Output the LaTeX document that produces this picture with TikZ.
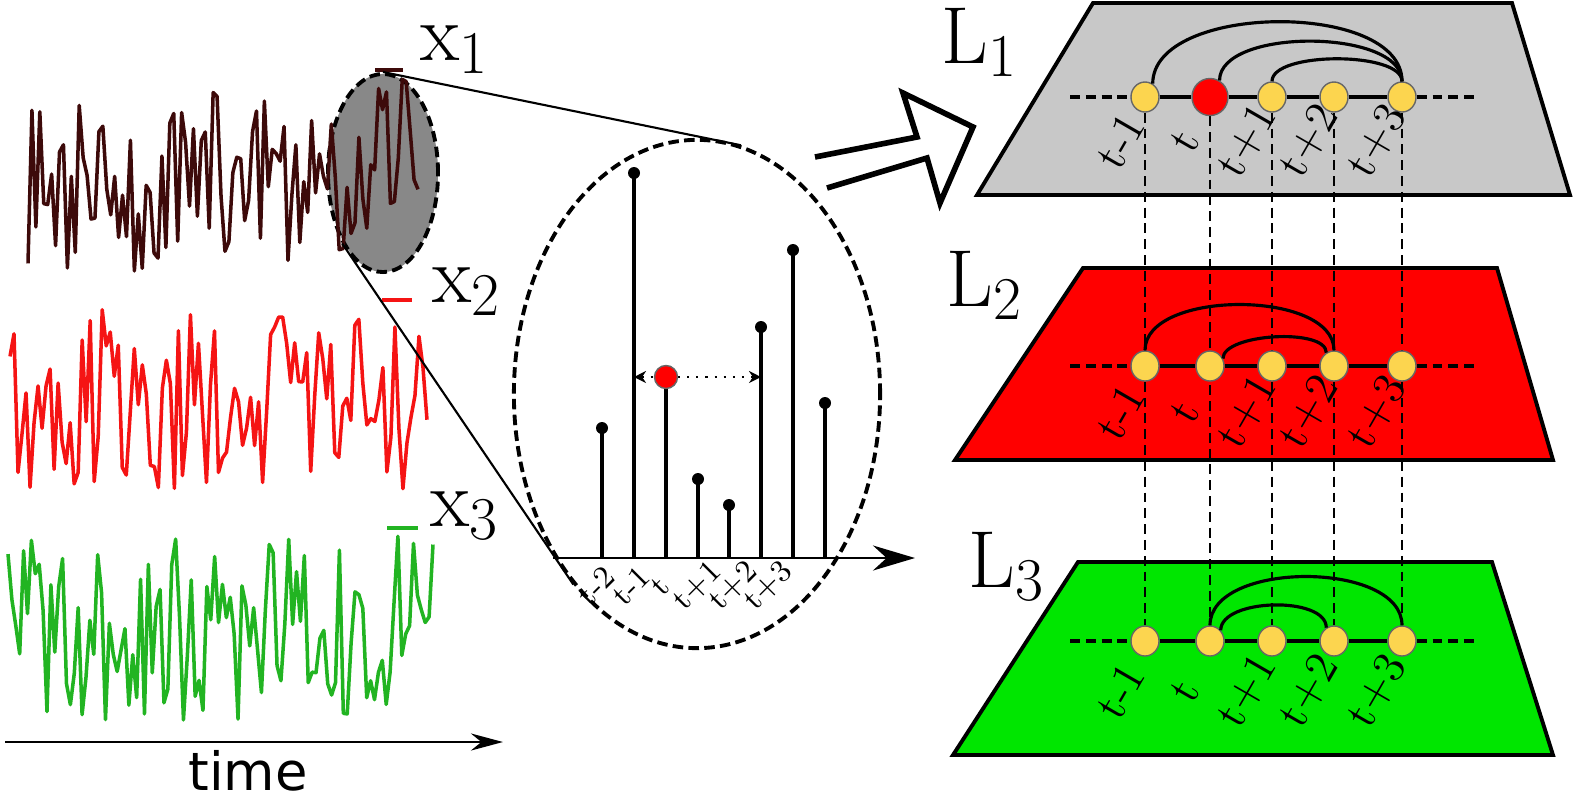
\documentclass[tikz,border=0pt]{standalone}
\usepackage{fontspec}
\newfontfamily\timefont{DejaVu Sans}
\usetikzlibrary{arrows.meta,shapes.geometric,backgrounds}
\definecolor{serbrown}{RGB}{61,10,10}
\definecolor{serred}{RGB}{245,20,20}
\definecolor{sergreen}{RGB}{34,180,34}
\definecolor{planegray}{RGB}{200,200,200}
\definecolor{planered}{RGB}{255,0,0}
\definecolor{planegreen}{RGB}{0,230,0}
\definecolor{nodeyel}{RGB}{252,213,79}
\definecolor{zoomgray}{RGB}{136,136,136}

\begin{document}
\begin{tikzpicture}[x=0.01cm,y=-0.01cm,
  series/.style={line width=1pt,line join=round},
  dashes/.style={dash pattern=on 3pt off 1.5pt,line width=1.1pt},
  stem/.style={line width=1.4pt},
  dot/.style={circle,fill=black,inner sep=0pt,minimum size=0.12cm},
  hotdot/.style={circle,fill=red,draw=black!60,thin,inner sep=0pt,minimum size=0.23cm},
  plane/.style={draw=black,line width=1.1pt,line join=miter},
  vtx/.style={ellipse,fill=nodeyel,draw=black!60,thin,inner sep=0pt,minimum width=0.28cm,minimum height=0.3cm},
  hot/.style={vtx,fill=red,minimum width=0.36cm,minimum height=0.37cm},
  link/.style={line width=0.9pt},
  tail/.style={line width=0.9pt,dash pattern=on 2.8pt off 1.7pt},
  vline/.style={line width=0.6pt,dash pattern=on 2.8pt off 1.7pt},
  tlab/.style={rotate=60,font=\fontsize{13}{13}\selectfont,inner sep=1pt},
  slab/.style={rotate=45,font=\fontsize{9}{9}\selectfont,inner sep=1pt},
  big/.style={font=\fontsize{23}{23}\selectfont,inner sep=0pt}]
\useasboundingbox (0,0) rectangle (1575,799);

\begin{scope}[on background layer]
  \node[ellipse,fill=zoomgray,draw,dashes,minimum width=1.1cm,minimum height=1.98cm] (zoomA) at (383,173) {};
\end{scope}
\pgfmathsetseed{5}
\draw[series,serbrown] plot[domain=28:418,samples=100] (\x,{178-0.06*(\x-220)+88*(2*rnd-1)});
\draw[series,serred] plot[domain=10:427,samples=105] (\x,{398+92*(2*rnd-1)});
\draw[series,sergreen] plot[domain=8:433,samples=110] (\x,{627+93*(2*rnd-1)});

\draw[serbrown,line width=1.1pt] (375,70) -- (403,70); \node[big] (x1) at (455,50) {$\mathrm{x}_1$};
\draw[serred,line width=1.1pt] (382,300) -- (412,300); \node[big] (x2) at (467,292) {$\mathrm{x}_2$};
\draw[sergreen,line width=1.1pt] (387,528) -- (418,528); \node[big] (x3) at (465,516) {$\mathrm{x}_3$};

\coordinate (t0) at (5,742); \coordinate (t1) at (503,742);
\draw[line width=0.8pt,-{Stealth[length=0.32cm,width=0.17cm]}] (t0) -- (t1);
\node[font=\timefont\fontsize{15}{15}\selectfont,inner sep=0pt] (time) at (248,771) {time};

\node[ellipse,draw,dashes,minimum width=3.66cm,minimum height=5.08cm] (zoomB) at (697,394) {};
\draw[line width=0.6pt] (zoomA.north) -- (zoomB.80);
\draw[line width=0.6pt] (zoomA.240) -- (zoomB.237);

\coordinate (ax0) at (553,558); \coordinate (ax1) at (915,558);
\draw[line width=0.7pt,-{Stealth[length=0.42cm,width=0.25cm]}] (ax0) -- (ax1);
\foreach \i/\x/\y in {1/602/428,2/634/173,3/666/377,4/698/479,5/729/505,6/761/327,7/793/250,8/825/403}
  \coordinate (p\i) at (\x,\y);
\draw[dotted,line width=0.6pt,{Stealth[length=1.2mm,width=1.2mm]}-{Stealth[length=1.2mm,width=1.2mm]}] (p2 |- p3) -- (p6 |- p3);
\foreach \i/\st in {1/dot,2/dot,3/hotdot,4/dot,5/dot,6/dot,7/dot,8/dot}
  \draw[stem] (p\i |- ax0) -- (p\i) node[\st] (s\i) {};
\foreach \i/\t/\dx in {1/t-2/-6,2/t-1/-3,3/t/-6,4/t+1/-1,5/t+2/4,6/t+3/7}
  \path (p\i |- ax0) ++(\dx,28) node[slab] (sl\i) {\t};

\draw[line width=1.6pt,line join=miter] (815,157) -- (917,137) -- (903,93) -- (973,127) -- (940,203) -- (927,158) -- (827,188);

\foreach \j/\x/\st in {1/1145/vtx,2/1210/hot,3/1272/vtx,4/1334/vtx,5/1402/vtx} {
  \node[\st] (a\j) at (\x,97) {};
  \node[vtx] (b\j) at (\x,366) {};
  \node[vtx] (c\j) at (\x,641) {};
}
\foreach \lay/\y/\dy in {a/97/44,b/366/46,c/641/50} {
  \coordinate (\lay0) at (1070,\y); \coordinate (\lay6) at (1480,\y);
  \draw[tail] (\lay0) -- (\lay1); \draw[tail] (\lay5) -- (\lay6);
  \draw[link] (\lay1) -- (\lay2) -- (\lay3) -- (\lay4) -- (\lay5);
  \foreach \j/\t in {1/t-1,2/t,3/t+1,4/t+2,5/t+3}
    \path (\lay\j) ++(-25,\dy) node[tlab] (lab\lay\j) {\t};
}
\draw[link] (a1.60) .. controls ([yshift=0.81cm]a1.60) and ([yshift=0.81cm]a5.north) .. (a5.north);
\draw[link] (a2.60) .. controls ([yshift=0.53cm]a2.60) and ([yshift=0.53cm]a5.north) .. (a5.north);
\draw[link] (a3.north) .. controls ([yshift=0.3cm]a3.north) and ([yshift=0.3cm]a5.north) .. (a5.north);
\draw[link] (b1.north) .. controls ([yshift=0.61cm]b1.north) and ([yshift=0.61cm]b4.north) .. (b4.north);
\draw[link] (b2.30) .. controls ([yshift=0.25cm]b2.30) and ([yshift=0.25cm]b4.120) .. (b4.120);
\draw[link] (c2.north) .. controls ([yshift=0.65cm]c2.north) and ([yshift=0.65cm]c5.north) .. (c5.north);
\draw[link] (c2.45) .. controls ([yshift=0.32cm]c2.45) and ([yshift=0.32cm]c4.120) .. (c4.120);

\node[big] (L1) at (980,42) {$\mathrm{L}_1$};
\node[big] (L2) at (985,285) {$\mathrm{L}_2$};
\node[big] (L3) at (1007,566) {$\mathrm{L}_3$};

\begin{scope}[on background layer]
  \draw[plane,fill=planegray] (1093,3) -- (1512,3) -- (1570,195) -- (977,195) -- cycle;
  \draw[plane,fill=planered] (1083,268) -- (1497,268) -- (1553,460) -- (955,460) -- cycle;
  \draw[plane,fill=planegreen] (1078,562) -- (1492,562) -- (1553,755) -- (953,755) -- cycle;
  \foreach \j in {1,...,5} \draw[vline] (a\j) -- (c\j);
\end{scope}
\end{tikzpicture}
\end{document}
